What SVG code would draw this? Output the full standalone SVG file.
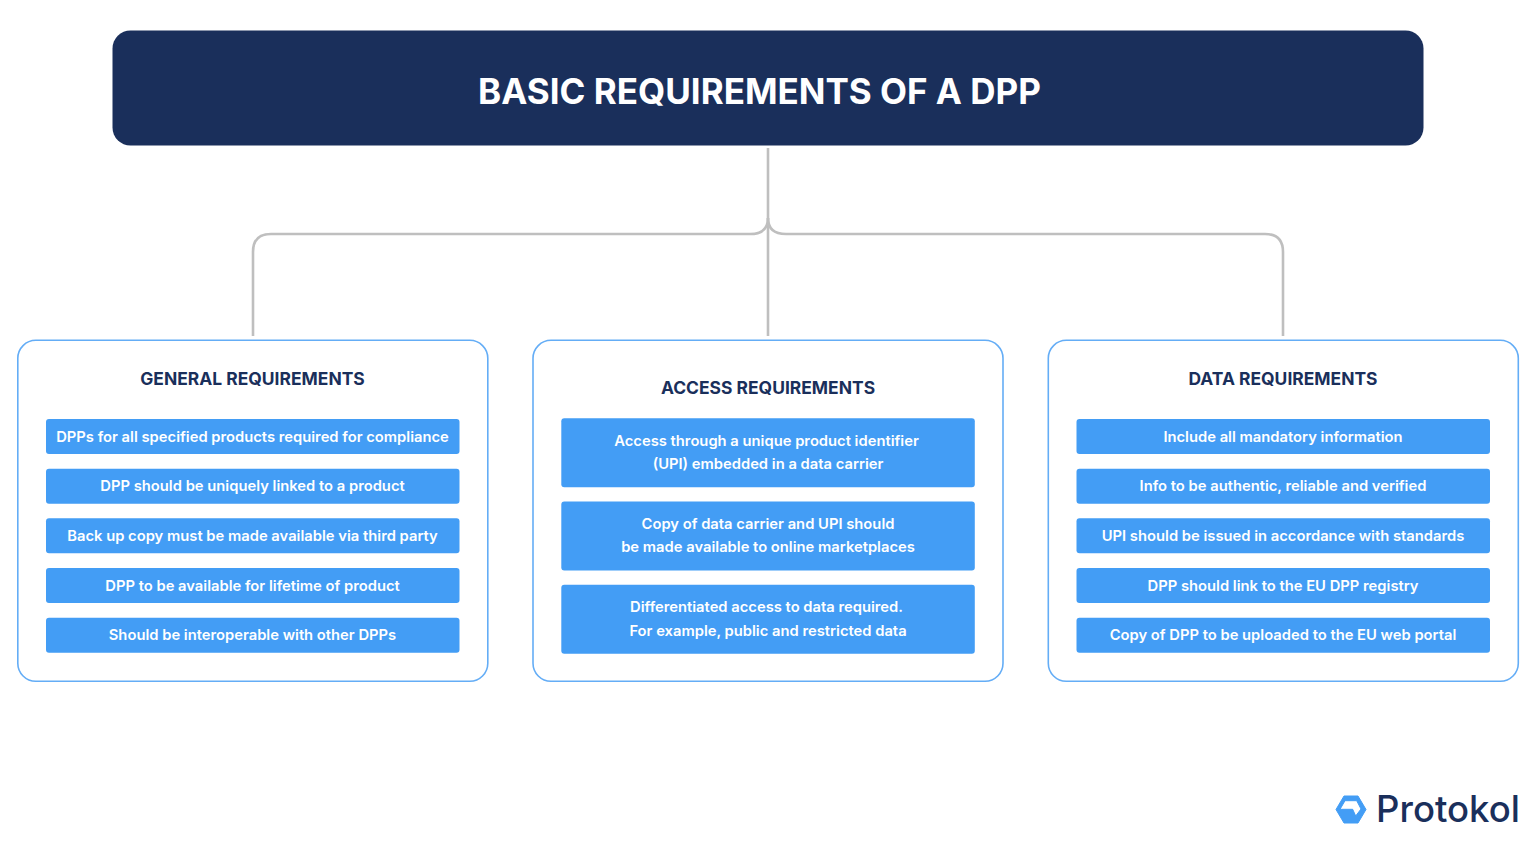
<svg xmlns="http://www.w3.org/2000/svg" width="1536" height="846" viewBox="0 0 1536 846">
<style>
text{font-family:Inter,"Liberation Sans",sans-serif;text-anchor:middle}
.panel{fill:#fff;stroke:#64adf6;stroke-width:1.6}
.item{fill:#439df5}
.t{fill:#fff;font-size:14.75px;font-weight:600}
.h{fill:#1a2f5b;font-size:17.45px;font-weight:700}
.conn{fill:none;stroke:#bfbfbf;stroke-width:2.6}
</style>
<rect width="1536" height="846" fill="#fff"/>
<g id="title"><rect x="112.500" y="30.500" width="1311" height="115" rx="18" fill="#1a2f5b"/>
<text x="759.500" y="104" style="font-size:35px;font-weight:700" fill="#fff">BASIC REQUIREMENTS OF A DPP</text></g>
<g id="connectors" class="conn">
<path d="M768 148V336"/>
<path d="M253 336V252Q253 234 271 234H750Q768 234 768 218"/>
<path d="M1283 336V252Q1283 234 1265 234H786Q768 234 768 218"/>
</g>
<g id="general">
<rect class="panel" x="17.800" y="340.300" width="470" height="341" rx="18"/>
<text class="h" x="252.500" y="385">GENERAL REQUIREMENTS</text>
<rect class="item" x="46" y="419" width="413.500" height="35" rx="3"/><text class="t" x="252.500" y="441.500">DPPs for all specified products required for compliance</text>
<rect class="item" x="46" y="468.700" width="413.500" height="35" rx="3"/><text class="t" x="252.500" y="491.100">DPP should be uniquely linked to a product</text>
<rect class="item" x="46" y="518.300" width="413.500" height="35" rx="3"/><text class="t" x="252.500" y="540.800">Back up copy must be made available via third party</text>
<rect class="item" x="46" y="568" width="413.500" height="35" rx="3"/><text class="t" x="252.500" y="590.500">DPP to be available for lifetime of product</text>
<rect class="item" x="46" y="617.700" width="413.500" height="35" rx="3"/><text class="t" x="252.500" y="640.100">Should be interoperable with other DPPs</text>
</g>
<g id="access">
<rect class="panel" x="533" y="340.300" width="470" height="341" rx="18"/>
<text class="h" x="768" y="393.500">ACCESS REQUIREMENTS</text>
<rect class="item" x="561.300" y="418.300" width="413.500" height="69" rx="3"/><text class="t" x="766.500" y="445.800">Access through a unique product identifier</text><text class="t" x="768" y="469.200">(UPI) embedded in a data carrier</text>
<rect class="item" x="561.300" y="501.500" width="413.500" height="69" rx="3"/><text class="t" x="768" y="529">Copy of data carrier and UPI should</text><text class="t" x="768" y="552.400">be made available to online marketplaces</text>
<rect class="item" x="561.300" y="584.700" width="413.500" height="69" rx="3"/><text class="t" x="766.500" y="612.200">Differentiated access to data required.</text><text class="t" x="768" y="635.600">For example, public and restricted data</text>
</g>
<g id="data">
<rect class="panel" x="1048.300" y="340.300" width="470" height="341" rx="18"/>
<text class="h" x="1283" y="385">DATA REQUIREMENTS</text>
<rect class="item" x="1076.500" y="419" width="413.500" height="35" rx="3"/><text class="t" x="1283" y="441.500">Include all mandatory information</text>
<rect class="item" x="1076.500" y="468.700" width="413.500" height="35" rx="3"/><text class="t" x="1283" y="491.100">Info to be authentic, reliable and verified</text>
<rect class="item" x="1076.500" y="518.300" width="413.500" height="35" rx="3"/><text class="t" x="1283" y="540.800">UPI should be issued in accordance with standards</text>
<rect class="item" x="1076.500" y="568" width="413.500" height="35" rx="3"/><text class="t" x="1283" y="590.500">DPP should link to the EU DPP registry</text>
<rect class="item" x="1076.500" y="617.700" width="413.500" height="35" rx="3"/><text class="t" x="1283" y="640.100">Copy of DPP to be uploaded to the EU web portal</text>
</g>
<g id="logo">
<path fill-rule="evenodd" fill="#439df5" stroke="#439df5" stroke-linejoin="round" stroke-width="1" d="M1344 796H1358L1366 809.500L1358 823H1344L1336 809.500ZM1345 800.700H1356.700L1361 809L1355.700 816L1352.700 809.300H1340Z"/>
<text x="1448" y="822" style="font-size:36.500px;font-weight:500" fill="#1a2f5b">Protokol</text>
</g>
</svg>
